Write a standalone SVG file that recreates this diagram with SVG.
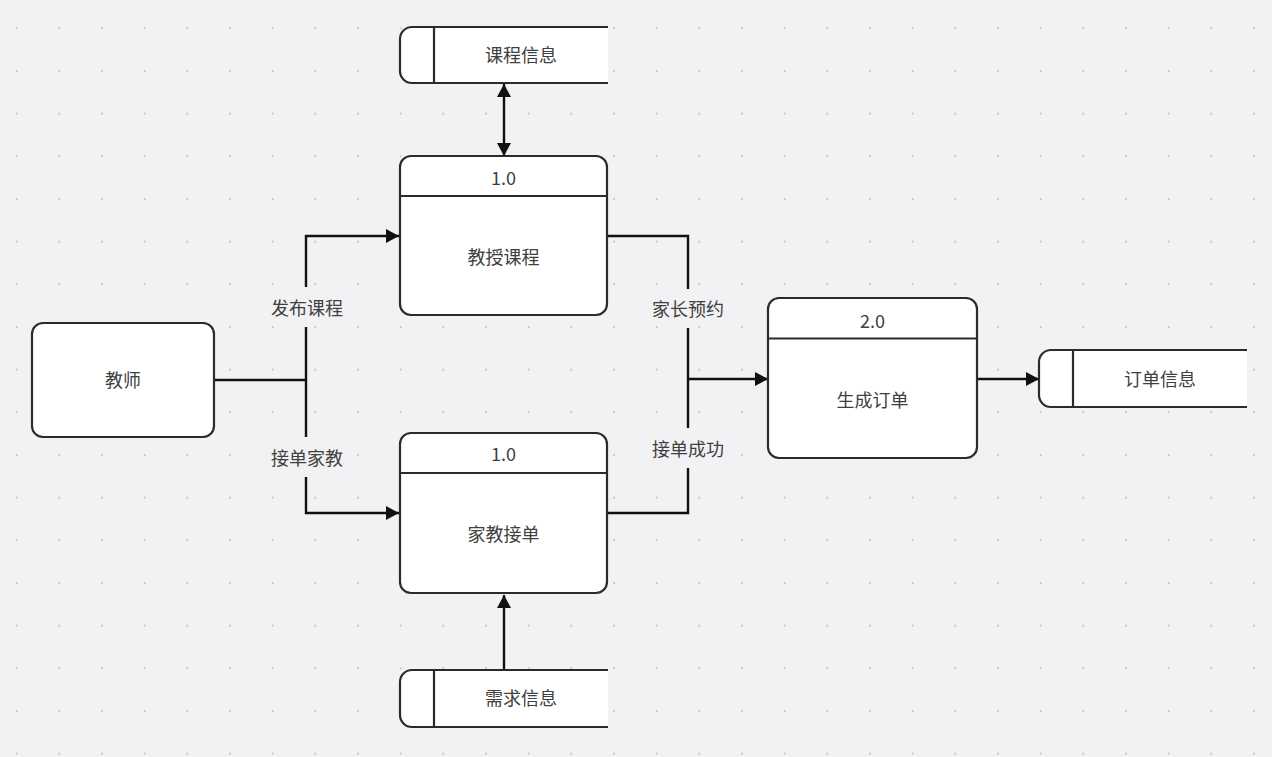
<svg xmlns="http://www.w3.org/2000/svg" width="1272" height="757" viewBox="0 0 1272 757">
<defs>
<pattern id="grid" x="15.7" y="27.3" width="42.667" height="42.667" patternUnits="userSpaceOnUse">
<rect x="0" y="0" width="2" height="2" fill="#c9c9cc"/>
</pattern>
<marker id="arr" markerUnits="userSpaceOnUse" markerWidth="14" markerHeight="14" refX="13" refY="7" orient="auto-start-reverse" viewBox="0 0 14 14">
<path d="M0,0 L13,7 L0,14 Z" fill="#111"/>
</marker>
</defs>
<style>
.box{fill:#fff;stroke:#2b2b2b;stroke-width:2.2}
.ln{fill:none;stroke:#2b2b2b;stroke-width:2.2}
.cn{fill:none;stroke:#111;stroke-width:2.4}
.t{font-family:"Noto Sans CJK SC","Noto Sans",sans-serif;font-size:18px;fill:#404040;text-anchor:middle;dominant-baseline:central}
</style>
<rect width="1272" height="757" fill="#f2f2f4"/>
<rect width="1272" height="757" fill="url(#grid)"/>

<g id="connectors">
<path class="cn" d="M214,380 H306"/>
<path class="cn" d="M306,287 V236 H399" marker-end="url(#arr)"/>
<path class="cn" d="M306,327 V437"/>
<path class="cn" d="M306,477 V513 H399" marker-end="url(#arr)"/>
<path class="cn" d="M607,236 H688 V289"/>
<path class="cn" d="M688,328 V428"/>
<path class="cn" d="M607,513 H688 V468"/>
<path class="cn" d="M688,379 H768" marker-end="url(#arr)"/>
<path class="cn" d="M977,379 H1039" marker-end="url(#arr)"/>
<path class="cn" d="M504,84 V156" marker-start="url(#arr)" marker-end="url(#arr)"/>
<path class="cn" d="M504,670 V595" marker-end="url(#arr)"/>
<text class="t" x="307" y="307">发布课程</text>
<text class="t" x="307" y="457">接单家教</text>
<text class="t" x="688" y="308">家长预约</text>
<text class="t" x="688" y="448">接单成功</text>
</g>

<g id="teacher">
<rect class="box" x="32" y="323" width="182" height="114" rx="11"/>
<text class="t" x="123" y="379">教师</text>
</g>

<g id="store-course">
<path class="box" d="M608,27 H412 A12,12 0 0 0 400,39 V71 A12,12 0 0 0 412,83 H608"/>
<line class="ln" x1="434" y1="27" x2="434" y2="83"/>
<text class="t" x="521" y="54">课程信息</text>
</g>

<g id="proc-teach">
<rect class="box" x="400" y="156" width="207" height="159" rx="11"/>
<line class="ln" x1="400" y1="196" x2="607" y2="196"/>
<text class="t" x="503.5" y="176.5">1.0</text>
<text class="t" x="503.5" y="256">教授课程</text>
</g>

<g id="proc-accept">
<rect class="box" x="400" y="433" width="207" height="160" rx="11"/>
<line class="ln" x1="400" y1="473" x2="607" y2="473"/>
<text class="t" x="503.5" y="452.5">1.0</text>
<text class="t" x="503.5" y="533">家教接单</text>
</g>

<g id="proc-order">
<rect class="box" x="768" y="298" width="209" height="160" rx="11"/>
<line class="ln" x1="768" y1="338.5" x2="977" y2="338.5"/>
<text class="t" x="872.5" y="320">2.0</text>
<text class="t" x="872.5" y="398.5">生成订单</text>
</g>

<g id="store-order">
<path class="box" d="M1247,350 H1051 A12,12 0 0 0 1039,362 V395 A12,12 0 0 0 1051,407 H1247"/>
<line class="ln" x1="1073" y1="350" x2="1073" y2="407"/>
<text class="t" x="1160" y="377.5">订单信息</text>
</g>

<g id="store-demand">
<path class="box" d="M608,670 H412 A12,12 0 0 0 400,682 V715 A12,12 0 0 0 412,727 H608"/>
<line class="ln" x1="434" y1="670" x2="434" y2="727"/>
<text class="t" x="521" y="697">需求信息</text>
</g>
</svg>
